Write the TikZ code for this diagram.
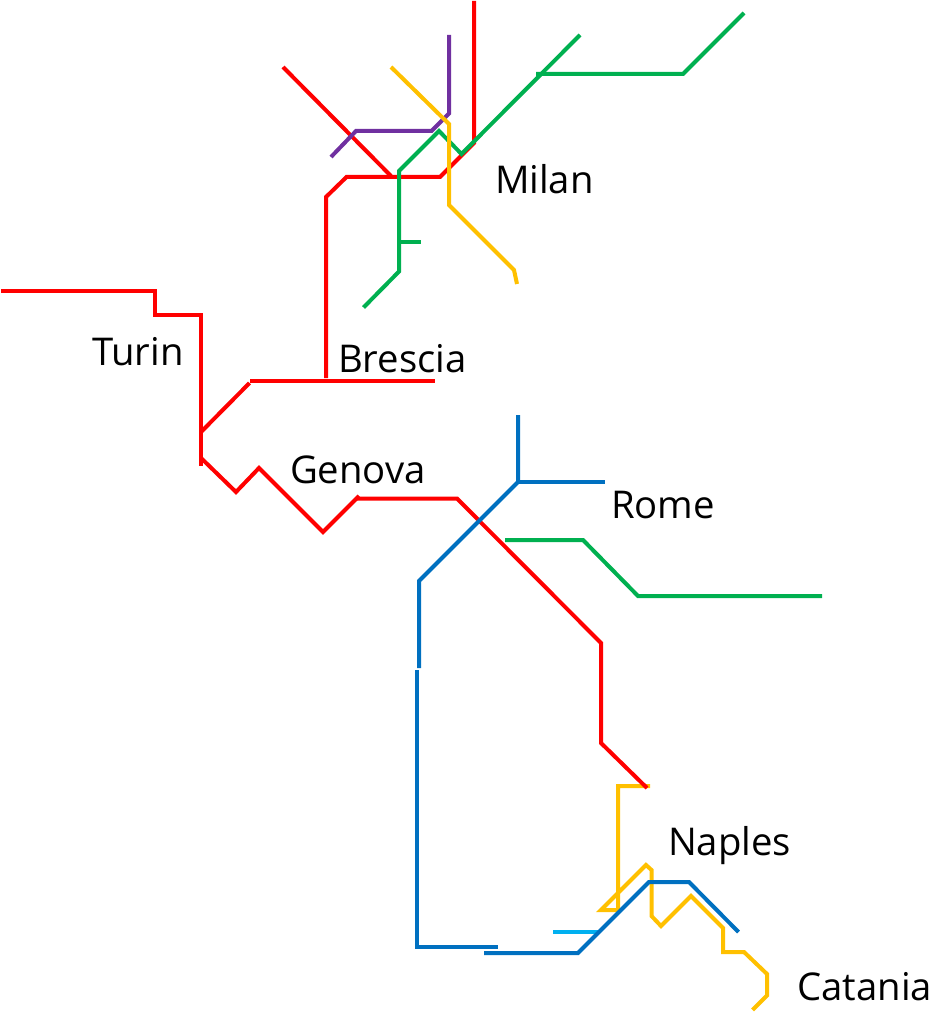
\documentclass[tikz,border=0pt]{standalone}
\usepackage{fontspec}
\setmainfont{Open Sans}
\definecolor{lred}{RGB}{255,0,0}
\definecolor{lgreen}{RGB}{0,176,80}
\definecolor{lyellow}{RGB}{255,192,0}
\definecolor{lpurple}{RGB}{112,48,160}
\definecolor{lblue}{RGB}{0,112,192}
\definecolor{lsky}{RGB}{0,176,240}
\tikzset{
  metro/.style={line width=3pt,line join=miter,line cap=butt},
  redline/.style={metro,draw=lred},
  greenline/.style={metro,draw=lgreen},
  yellowline/.style={metro,draw=lyellow},
  purpleline/.style={metro,draw=lpurple},
  blueline/.style={metro,draw=lblue},
  skyline/.style={metro,draw=lsky},
  city/.style={anchor=base west,inner sep=0pt,outer sep=0pt,text=black,font=\fontsize{28.7}{32}\selectfont}
}
\begin{document}
\begin{tikzpicture}[x=0.75pt,y=-0.75pt]
\useasboundingbox (0,0) rectangle (931,1012);
% yellow (south)
\draw[yellowline] (650,786) -- (618,786) -- (618,910) -- (601,910) -- (646,865) -- (651.5,870) -- (651.5,916) -- (661,926) -- (691,896) -- (723,928) -- (723,952) -- (744,952) -- (767,974) -- (767,995.5) -- (752.5,1010);
% red
\draw[redline] (1,291) -- (155,291) -- (155,314.5) -- (201,314.5) -- (201,466);
\draw[redline] (201,432) -- (249.5,383);
\draw[redline] (250,381) -- (435,381);
\draw[redline] (326,378) -- (326,197) -- (346.5,177) -- (440,177) -- (474,143) -- (474,1);
\draw[redline] (283,67) -- (391,176);
\draw[redline] (201,458) -- (236,492) -- (259,468) -- (323,532) -- (359,496);
\draw[redline] (356,498.5) -- (457,498.5) -- (601,643) -- (601,743) -- (647,788);
% purple
\draw[purpleline] (449,35) -- (449,113.5) -- (431.5,131) -- (356,131) -- (331,157);
% green
\draw[greenline] (580,35) -- (461.5,154) -- (439,131) -- (399,171) -- (399,271.5) -- (363.5,307.5);
\draw[greenline] (399,242) -- (421,242);
\draw[greenline] (536,74) -- (683,74) -- (744,13);
\draw[greenline] (505,540) -- (583,540) -- (638,596) -- (822,596);
% yellow (north)
\draw[yellowline] (391,67) -- (449,124) -- (449,205) -- (514,270) -- (517,284);
% blue
\draw[skyline] (553,932) -- (599,932);
\draw[blueline] (518,415) -- (518,482) -- (419,581) -- (419,668);
\draw[blueline] (518,482) -- (605,482);
\draw[blueline] (417,670) -- (417,946.5) -- (498,946.5);
\draw[blueline] (484,953) -- (578,953) -- (649,882) -- (689,882) -- (738.5,932);
% labels
\node[city] (milan) at (495,194) {Milan};
\node[city] (turin) at (92,365) {Turin};
\node[city] (brescia) at (338,372) {Brescia};
\node[city] (genova) at (290,483) {Genova};
\node[city] (rome) at (611,518) {Rome};
\node[city] (naples) at (668,855) {Naples};
\node[city] (catania) at (797.5,1000) {Catania};
\end{tikzpicture}
\end{document}
